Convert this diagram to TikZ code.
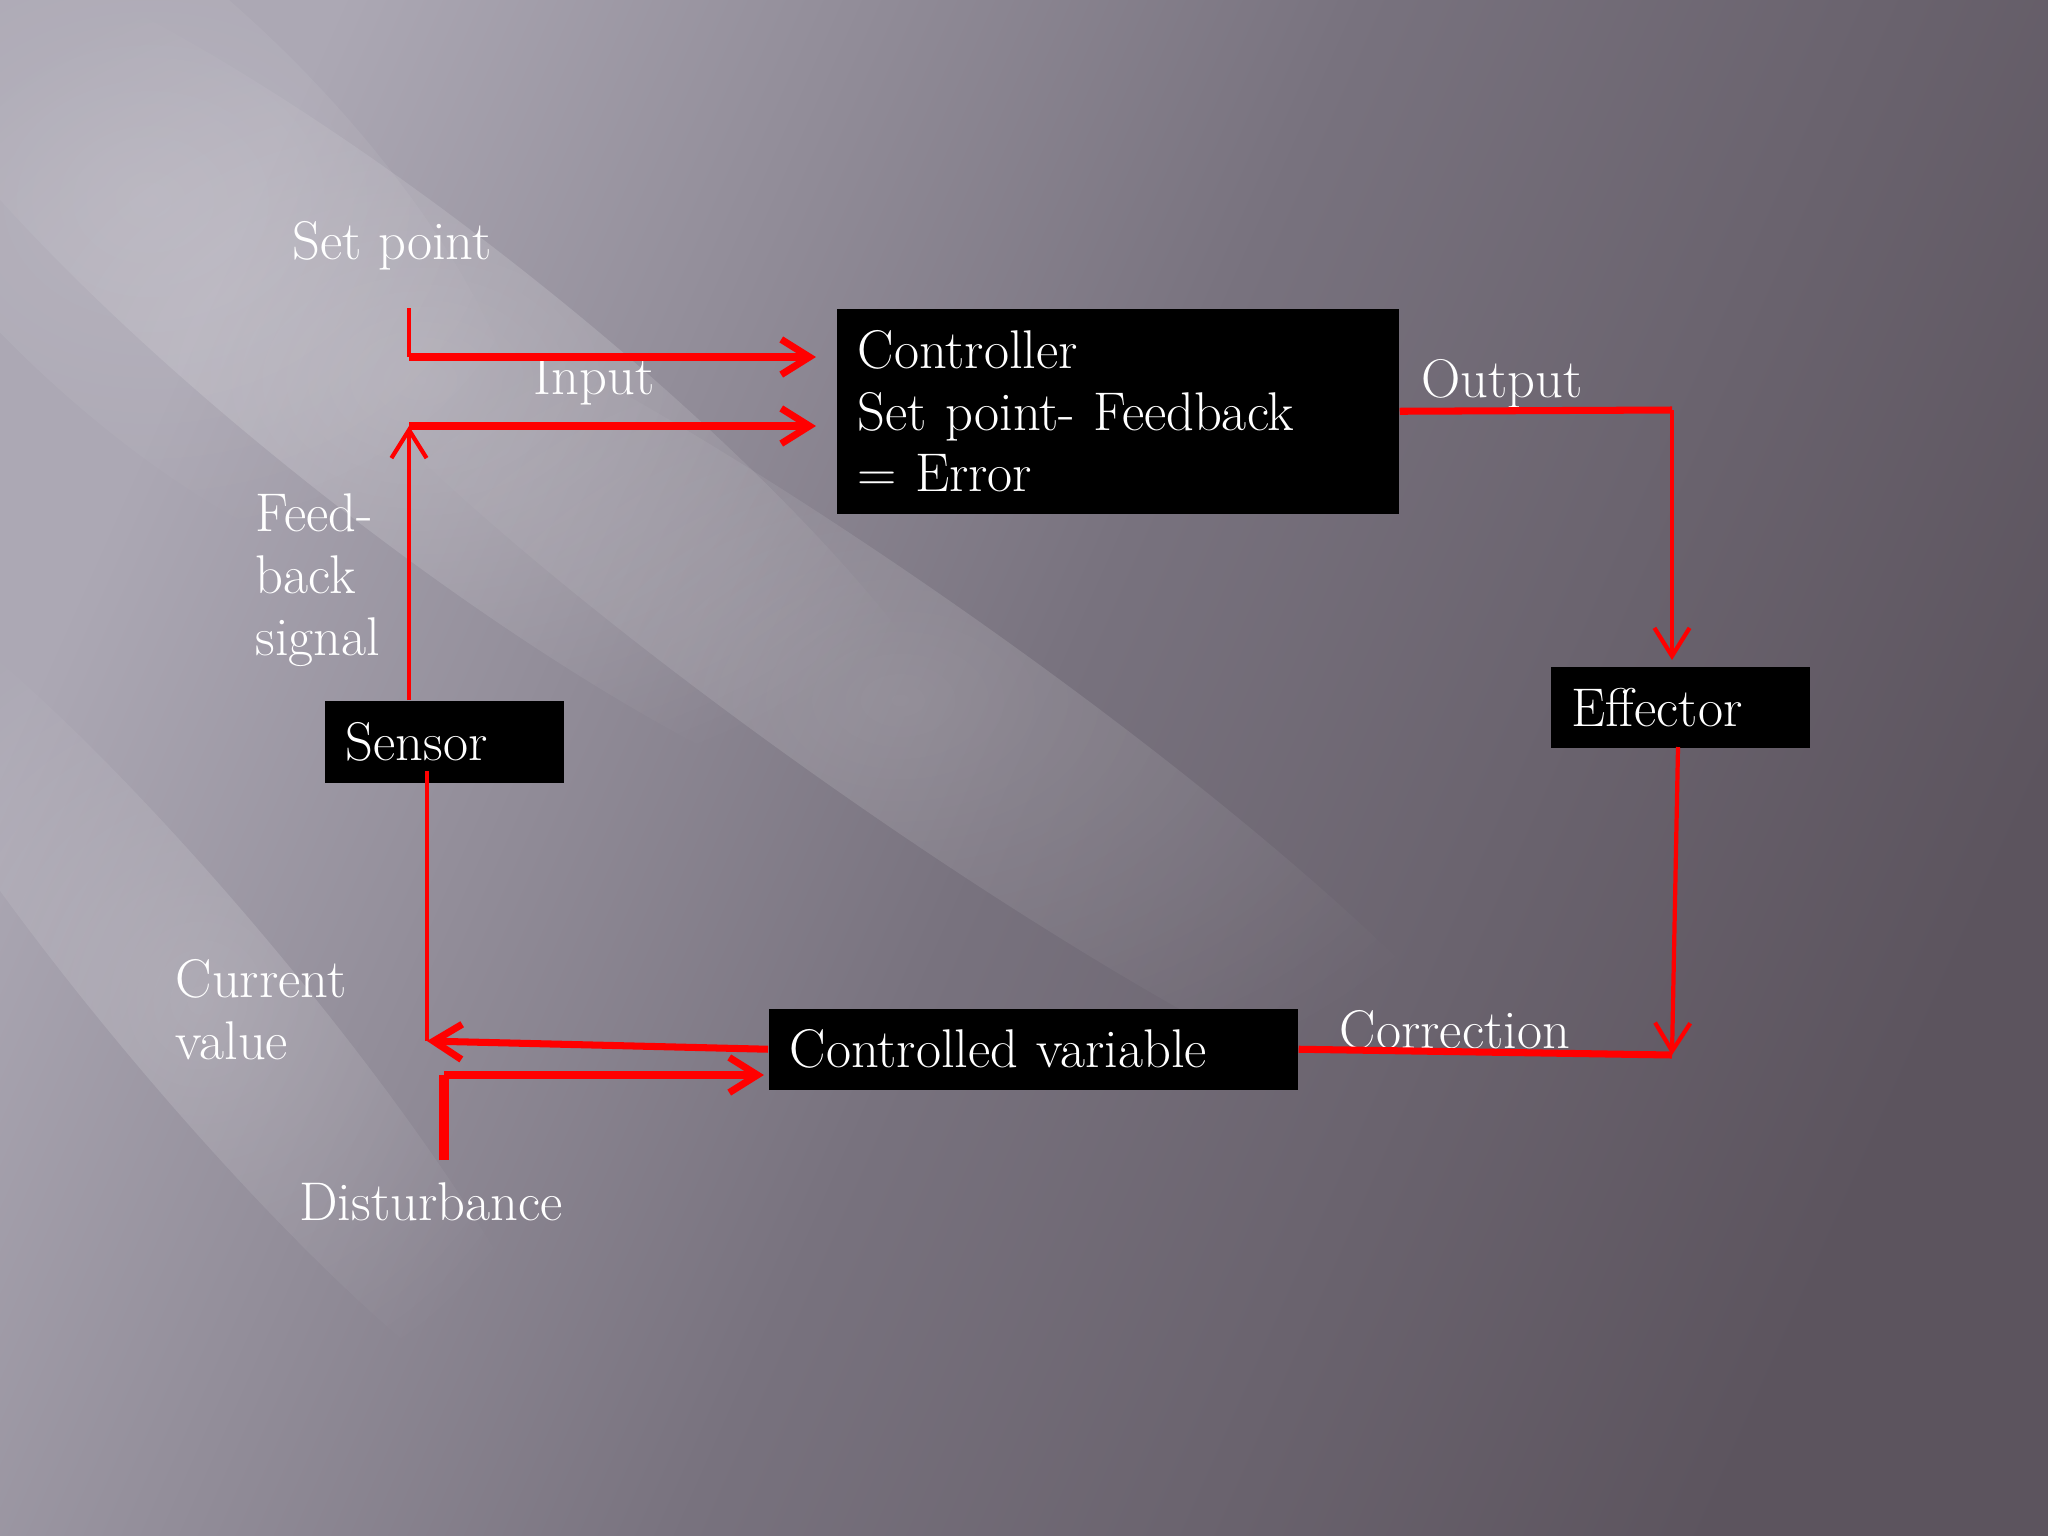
\documentclass[tikz,border=0pt]{standalone}
\usetikzlibrary{arrows.meta,fadings}
\definecolor{bgTL}{RGB}{172,168,180}
\definecolor{bgMid}{RGB}{120,114,126}
\definecolor{bgBR}{RGB}{92,84,94}
\definecolor{linered}{RGB}{255,0,0}
\tikzfading[name=softglow, inner color=transparent!0, outer color=transparent!100]
\begin{document}
\begin{tikzpicture}[x=0.01cm,y=-0.01cm,
  font=\fontsize{15.5}{17.6}\selectfont,
  lbl/.style={text=white, inner sep=0pt, align=left},
  blk/.style={fill=black, text=white, anchor=north west, inner xsep=0.21cm, inner ysep=0pt, align=left},
  redthin/.style={draw=linered, line width=1.2pt},
  redthick/.style={draw=linered, line width=2pt},
  streak/.style={fill=white, path fading=softglow},
  arrowtip/.style={-{Straight Barb[length=8pt,width=10pt]}}]
\useasboundingbox (0,0) rectangle (2048,1536);
% background
\shade[top color=bgTL, bottom color=bgBR, middle color=bgMid, shading angle=66] (0,0) rectangle (2048,1536);
\fill[streak, fill opacity=0.22, rotate around={-38:(420,380)}] (420,380) ellipse [x radius=700, y radius=150];
\fill[streak, fill opacity=0.16, rotate around={-35:(900,700)}] (900,700) ellipse [x radius=750, y radius=110];
\fill[streak, fill opacity=0.18, rotate around={-50:(200,1000)}] (200,1000) ellipse [x radius=550, y radius=90];
\fill[streak, fill opacity=0.12, rotate around={-45:(150,200)}] (150,200) ellipse [x radius=500, y radius=200];
% boxes
\node[blk, text width=5.2cm, minimum width=5.62cm, minimum height=2.05cm] (ctrl) at (836,308) {Controller\\Set point- Feedback\\= Error};
\node[blk, text width=2.17cm, minimum width=2.59cm, minimum height=0.81cm] (eff) at (1550,666) {Effector};
\node[blk, text width=1.97cm, minimum width=2.39cm, minimum height=0.82cm] (sens) at (324,700) {Sensor};
\node[blk, text width=4.87cm, minimum width=5.29cm, minimum height=0.81cm] (cv) at (768,1008) {Controlled variable};
% labels
\node[lbl] (lsp) at (392,246) {Set point};
\node[lbl] (lin) at (594,381) {Input};
\node[lbl] (lout) at (1502,384) {Output};
\node[lbl, anchor=west] (lfb) at (255,580) {Feed-\\back\\signal};
\node[lbl, anchor=west] (lcur) at (175,1010) {Current\\value};
\node[lbl] (ldist) at (431,1202) {Disturbance};
\node[lbl] (lcor) at (1455,1030) {Correction};
% coordinates
\coordinate (spstart) at (409,308);
\coordinate (spcorner) at (409,357);
\coordinate (spend) at (816,357);
\coordinate (fbstart) at (409,700);
\coordinate (fbcorner) at (409,426);
\coordinate (fbend) at (816,426);
\coordinate (outcorner) at (1672,410);
\coordinate (outend) at (1672,660);
\coordinate (effstart) at (1678,747);
\coordinate (corrpt) at (1672,1055);
\coordinate (sensstart) at (427,771);
\coordinate (cvleft) at (427,1041);
\coordinate (diststart) at (444,1160);
\coordinate (distcorner) at (444,1075);
\coordinate (distend) at (764,1075);
% connectors
\draw[redthin] (spstart) -- (spcorner);
\draw[redthick, arrowtip] (spcorner) -- (spend);
\draw[redthin, arrowtip] (fbstart) -- (fbcorner);
\draw[redthick, arrowtip] (fbcorner) -- (fbend);
\draw[redthick] (ctrl.east) -- (outcorner);
\draw[redthin, arrowtip] (outcorner) -- (outend);
\draw[redthin, arrowtip] (effstart) -- (corrpt);
\draw[redthick] (cv.east) -- (corrpt);
\draw[redthin] (sensstart) -- (cvleft);
\draw[redthick, arrowtip] (cv.west) -- (cvleft);
\draw[redthick, line width=3pt] (diststart) -- (distcorner);
\draw[redthick, arrowtip] (distcorner) -- (distend);
\end{tikzpicture}
\end{document}
